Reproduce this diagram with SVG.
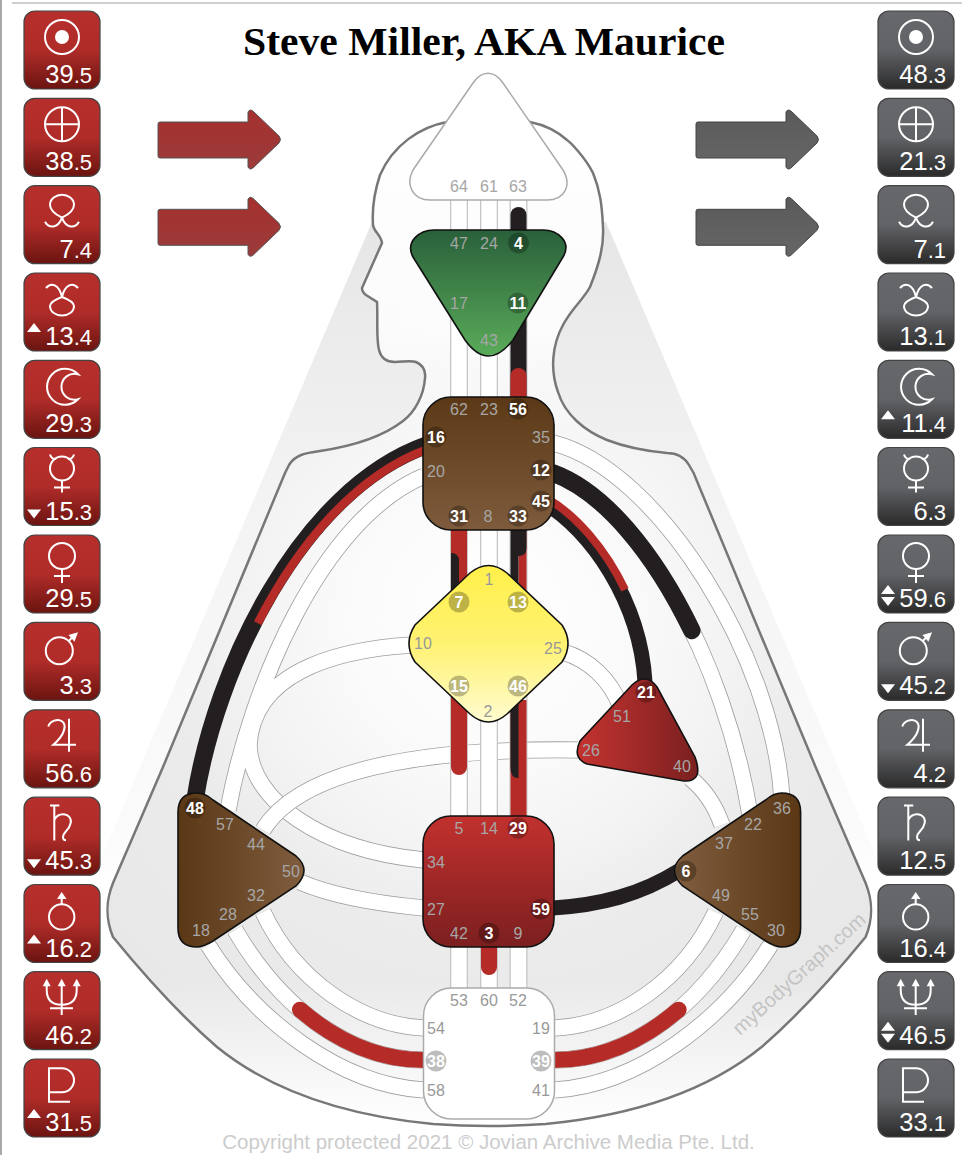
<svg xmlns="http://www.w3.org/2000/svg" width="974" height="1166" viewBox="0 0 974 1166">
<style>
text{font-family:"Liberation Sans",Arial,sans-serif}
.tr{fill:url(#tileR);stroke:#444;stroke-width:1.2}
.tg{fill:url(#tileG);stroke:#444;stroke-width:1.2}
.v{fill:#fff;font-size:25.500px;text-anchor:end}
.d{font-size:22px}
.s{fill:none;stroke:#fff;stroke-width:2}
.f{fill:#fff;stroke:none}
.ch{fill:none}
.b{stroke:#9e9e9e;stroke-width:17;fill:none}
.w{stroke:#fff;stroke-width:15.400;fill:none}
.vb{stroke:#c6c6c6;stroke-width:18;fill:none}
.k{stroke:#231f20;stroke-width:17.500;fill:none}
.r{stroke:#b52b27;stroke-width:16;fill:none}
.n{stroke:#111;stroke-width:1.6}
.g{fill:#a6a6a6;font-size:16px;text-anchor:middle}
.gy{fill:#999;font-size:16px;text-anchor:middle}
.a{fill:#fff;font-size:16px;font-weight:bold;text-anchor:middle}
.c{fill:#000;fill-opacity:.26}
.cl{fill:#bdbdbd}
.arR{fill:url(#arrR);stroke:#555;stroke-width:1}
.arG{fill:url(#arrG);stroke:#444;stroke-width:1}
</style>
<defs>
<linearGradient id="tileR" x1="0" y1="0" x2="0" y2="1"><stop offset="0" stop-color="#b62f2c"/><stop offset=".5" stop-color="#b02c29"/><stop offset="1" stop-color="#6b1410"/></linearGradient>
<linearGradient id="tileG" x1="0" y1="0" x2="0" y2="1"><stop offset="0" stop-color="#67686c"/><stop offset=".5" stop-color="#626367"/><stop offset="1" stop-color="#2a2a2a"/></linearGradient>
<linearGradient id="arrR" x1="0" y1="0" x2="0" y2="1"><stop offset="0" stop-color="#a5302e"/><stop offset="1" stop-color="#9b3b3b"/></linearGradient>
<linearGradient id="arrG" x1="0" y1="0" x2="0" y2="1"><stop offset="0" stop-color="#5a5a5c"/><stop offset="1" stop-color="#666"/></linearGradient>
<linearGradient id="cone" gradientUnits="userSpaceOnUse" x1="0" y1="225" x2="0" y2="900"><stop offset="0" stop-color="#e6e6e6"/><stop offset=".4" stop-color="#f3f3f3"/><stop offset=".9" stop-color="#fbfbfb"/><stop offset="1" stop-color="#fff"/></linearGradient>
<radialGradient id="body" gradientUnits="userSpaceOnUse" cx="489" cy="620" r="480"><stop offset="0" stop-color="#fff"/><stop offset=".3" stop-color="#fafafa"/><stop offset=".5" stop-color="#f3f3f3"/><stop offset=".68" stop-color="#ebebeb"/><stop offset="1" stop-color="#e8e8e8"/></radialGradient>
<linearGradient id="over" gradientUnits="userSpaceOnUse" x1="0" y1="120" x2="0" y2="1126"><stop offset="0" stop-color="#fff"/><stop offset=".209" stop-color="#fff" stop-opacity=".8"/><stop offset=".328" stop-color="#fff" stop-opacity="0"/><stop offset=".855" stop-color="#fff" stop-opacity="0"/><stop offset="1" stop-color="#fff"/></linearGradient>
<linearGradient id="ajna" x1="0" y1="0" x2="0" y2="1"><stop offset="0" stop-color="#29603a"/><stop offset="1" stop-color="#5aab5a"/></linearGradient>
<linearGradient id="throat" x1="0" y1="0" x2="0" y2="1"><stop offset="0" stop-color="#5c3916"/><stop offset="1" stop-color="#7d5b3c"/></linearGradient>
<linearGradient id="gc" x1="0" y1="0" x2="0" y2="1"><stop offset="0" stop-color="#fff04a"/><stop offset=".5" stop-color="#fff272"/><stop offset="1" stop-color="#fffcd0"/></linearGradient>
<linearGradient id="ego" x1="0" y1="0" x2="1" y2="0"><stop offset="0" stop-color="#c43330"/><stop offset="1" stop-color="#7a2020"/></linearGradient>
<linearGradient id="sacral" x1="0" y1="0" x2="0" y2="1"><stop offset="0" stop-color="#c2312e"/><stop offset="1" stop-color="#7b1f1f"/></linearGradient>
<linearGradient id="spl" x1="0" y1="0" x2="1" y2="0"><stop offset="0" stop-color="#5a3715"/><stop offset="1" stop-color="#7f5d3e"/></linearGradient>

<path id="arrow" d="M160,122H248V112Q250,108 254,112L279,136Q282,139.5 279,143L254,167Q250,171 248,167V158H160Q158,158 158,156V124Q158,122 160,122Z"/>
<path id="bodyP" d="M447,122C420,127 393,145 380,175C375,190 372,210 373,225C374,232 381,235 382,243L362,288Q362,292 366,295L377,302C378,320 376,338 379,350C381,358 386,362 395,362C403,362 410,360 416,362C423,365 426,370 425,378C424,395 415,412 403,421C385,435 360,445 320,451C305,453 295,455 289,465L285,473L163,767L113,883C107,898 104,915 113,937C140,970 180,1015 217,1047C270,1090 340,1115 433,1124C460,1126 480,1126 489.3,1126C498,1126 518,1126 545.6,1124C638.6,1115 708.6,1090 761.6,1047C798.6,1015 838.6,970 865.6,937C874.6,915 871.6,898 865.6,883L815.6,767L693.6,473L689,465C683,455 675,453 667,453C645,451 625,447 607,440C585,431 565,415 558,392C550,370 552,345 563,325C572,308 583,300 590,287C600,262 604,245 603,227C602,205 600,190 593,173C585,157 570,142 567,140C558,132 545,125 530,122Z"/>

<g id="sun"><circle class="s" cx="38" cy="26" r="17"/><circle class="f" cx="38" cy="26" r="7"/></g>
<g id="earth"><circle class="s" cx="38" cy="26" r="17"/><path class="s" d="M38,9V43M21,26H55"/></g>
<path id="nnode" class="s" d="M21,36C25,43 34,43 38,32C30,28 26,24 26,19C26,13 32,9 38,9C44,9 50,13 50,19C50,24 46,28 38,32C42,43 51,43 55,36"/>
<path id="snode" class="s" d="M22,15C27,9 35,11 38,24C30,27 26,30 26,33C26,39 32,42.500 38,42.500C44,42.500 50,39 50,33C50,30 46,27 38,24C41,11 49,9 54,15"/>
<path id="moon" class="s" d="M54,14A18,18 0 1 0 54,39A13,13 0 1 1 54,14Z"/>
<g id="mercury"><circle class="s" cx="38" cy="21" r="12"/><path class="s" d="M26,7C27,11 30,12 32,11M50,7C49,11 46,12 44,11M38,33V45M30,40H46"/></g>
<g id="venus"><circle class="s" cx="38" cy="21" r="13"/><path class="s" d="M38,34V48M30,41H46"/></g>
<g id="mars"><circle class="s" cx="35.3" cy="28.4" r="13.5"/><path class="s" d="M45,18.5L50,13"/><path class="f" d="M44.5,12.7L54,10L50.5,19.4Z"/></g>
<path id="jupiter" class="s" d="M24.3,16.7C26,11 34,8.5 38,11.5C43,15 41,25 29.3,35H52M45,9V42"/>
<g id="saturn"><path class="s" d="M30.3,7.7V43.4M26,8.4H35.3M30.3,22.7C33,17 39,16 43,18C50,22 46,30 42,34C38,38 38,43 42,43"/></g>
<g id="uranus"><circle class="s" cx="37.7" cy="32.4" r="12.7"/><path class="s" d="M37.7,14V20"/><path class="f" d="M33,14.5H42.5L37.7,7.4Z"/></g>
<g id="neptune"><path class="s" d="M22.7,13V18Q22.7,33 37.7,33Q52.7,33 52.7,18V13M37.7,13V43.3M26,36.6H49"/><path class="f" d="M18.7,14.5H26.7L22.7,7ZM33.7,14.5H41.7L37.7,7ZM48.7,14.5H56.7L52.7,7Z"/></g>
<path id="pluto" class="s" d="M25,33.3H38A12,12 0 0 0 38,9.3H25V42.7H46"/>
<path id="up" class="f" d="M3,59H17L10,50Z"/>
<path id="down" class="f" d="M3,62H17L10,71Z"/>

<path id="c2057" d="M424,476C320,520 250,690 228,810"/>
<path id="c1034" d="M412,645C330,650 253,675 249,745C250,800 320,850 424,860"/>
<path id="c4426" d="M263,830C300,770 420,748 578,750"/>
<path id="c5027" d="M300,882C335,897 380,904 424,908"/>
<path id="c4037" d="M690,778C705,790 715,805 722,825"/>
<path id="c2551" d="M563,652C590,660 610,680 620,705"/>
<path id="c3536" d="M553,443C660,470 775,660 782,800"/>
<path id="c1222" d="M553,473C640,505 725,660 750,815"/>
<path id="c5832" d="M424,1028C360,1025 295,980 263,912"/>
<path id="c3828" d="M424,1060C355,1060 285,1015 235,930"/>
<path id="c5818" d="M424,1090C340,1085 255,1020 208,945"/>
<g id="rootCh" class="ch"><use href="#c5832" class="b"/><use href="#c3828" class="b"/><use href="#c5818" class="b"/><use href="#c5832" class="w"/><use href="#c3828" class="w"/><use href="#c5818" class="w"/></g>
<path id="spleenP" d="M178,812Q178,793 197,793Q205,793 213,800L296,856Q312,870 296,886L213,941Q203,947 197,947Q178,947 178,928Z"/>
</defs>

<rect width="974" height="1166" fill="#fff"/>
<rect x="0" y="0" width="2" height="1155" fill="#a8a8a8"/>
<rect x="12" y="2" width="950" height="2" fill="#cfcfcf"/>

<text id="title" x="484" y="55" text-anchor="middle" textLength="482" lengthAdjust="spacingAndGlyphs" style="font-family:'Liberation Serif','Times New Roman',serif;font-size:39px;font-weight:bold;fill:#000">Steve Miller, AKA Maurice</text>

<g id="backdrop">
<path fill="url(#cone)" d="M372,222L606,222L886,880H92Z"/>
<use href="#bodyP" fill="url(#body)"/>
<use href="#bodyP" fill="url(#over)"/>
<use href="#bodyP" fill="none" stroke="#777" stroke-width="2.500"/>
</g>

<g id="arrows">
<use href="#arrow" class="arR"/>
<use href="#arrow" class="arR" transform="translate(0,87.3)"/>
<use href="#arrow" class="arG" transform="translate(538,0)"/>
<use href="#arrow" class="arG" transform="translate(538,87.3)"/>
</g>

<g id="connectors">
<g class="ch"><use href="#c2057" class="b"/><use href="#c1034" class="b"/><use href="#c2057" class="w"/><use href="#c1034" class="w"/></g>
<use href="#c4426" class="b"/><use href="#c4426" class="w"/>
<use href="#c5027" class="b"/><use href="#c5027" class="w"/>
<use href="#c4037" class="b"/><use href="#c4037" class="w"/>
<use href="#c2551" class="b"/><use href="#c2551" class="w"/>
<use href="#c3536" class="b"/><use href="#c3536" class="w"/>
<use href="#c1222" class="b"/><use href="#c1222" class="w"/>
<use href="#rootCh"/>
<use href="#rootCh" transform="matrix(-1 0 0 1 978.6 0)"/>
<path class="vb" d="M459,195V1000M489,195V1000M518.500,195V1000"/>
<path class="w" d="M459,195V1000M489,195V1000M518.500,195V1000"/>
<path class="k" style="stroke-width:16" stroke-linecap="round" d="M518.500,215V400"/>
<path class="r" stroke-linecap="round" d="M518.500,376V410"/>
<path class="k" d="M427,445C300,490 215,670 195,800"/>
<path class="r" style="stroke-width:8.500" pathLength="100" stroke-dasharray="57 100" d="M428,449C303,494 219,672 199,801"/>
<path class="k" pathLength="100" stroke-dasharray="52.500 100" stroke-linecap="round" d="M553,473C640,505 725,660 750,815"/>
<path class="k" style="stroke-width:15" d="M545,503C590,530 640,600 645,682"/>
<path class="r" style="stroke-width:8" pathLength="100" stroke-dasharray="56 100" d="M548,499C594,526 644,598 649,681"/>
<path class="k" style="stroke-width:15" d="M553,908C600,905 640,895 680,870"/>
<path class="r" pathLength="100" stroke-dasharray="57 100" stroke-linecap="round" d="M424,1060C355,1060 285,1015 235,930"/>
<path class="r" pathLength="100" stroke-dasharray="57 100" stroke-linecap="round" d="M554.6,1060C623.6,1060 693.6,1015 743.6,930"/>
<path class="r" stroke-linecap="round" d="M489,940V967"/>
<path class="r" stroke-linecap="round" d="M459,525V767"/>
<path fill="#231f20" d="M451,600V553Q459,553 459,561V600Z"/>
<rect x="518.500" y="530" width="8" height="70" fill="#b52b27"/>
<path fill="#231f20" d="M510.500,525H526.500V548Q526.500,556 518.500,556V600H510.500Z"/>
<rect x="510.500" y="700" width="16" height="118" fill="#b52b27"/>
<path fill="#231f20" d="M510.500,700H518.500V778Q510.500,778 510.500,768Z"/>
</g>

<g id="head">
<path fill="#fff" stroke="#aaa" stroke-width="1.500" d="M473,83C482,70 494,70 503,83L563,170C572,185 565,200 547,200H430C413,200 405,185 413,170Z"/>
<text class="g" x="459" y="192">64</text><text class="g" x="489" y="192">61</text><text class="g" x="518" y="192">63</text>
</g>
<g id="ajna">
<path class="n" fill="url(#ajna)" d="M434,230H543C558,230 572,242 563,257L513,340Q488,372 465,340L413,257C405,242 419,230 434,230Z"/>
<text class="g" x="459" y="248.500">47</text><text class="g" x="489" y="248.500">24</text>
<circle class="c" cx="518.500" cy="243" r="10.500"/><text class="a" x="518.500" y="248.500">4</text>
<text class="g" x="459" y="309">17</text>
<circle class="c" cx="518" cy="303" r="10.500"/><text class="a" x="518" y="309">11</text>
<text class="g" x="489" y="346">43</text>
</g>
<g id="throat">
<rect class="n" fill="url(#throat)" x="423" y="397" width="131" height="133" rx="28"/>
<text class="g" x="459" y="415">62</text><text class="g" x="489" y="415">23</text>
<circle class="c" cx="518" cy="409" r="10.500"/><text class="a" x="518" y="415">56</text>
<circle class="c" cx="436" cy="437" r="10.500"/><text class="a" x="436" y="443">16</text>
<text class="g" x="541" y="443">35</text><text class="g" x="436" y="477">20</text>
<circle class="c" cx="541" cy="470" r="10.500"/><text class="a" x="541" y="476">12</text>
<circle class="c" cx="541" cy="501" r="10.500"/><text class="a" x="541" y="507">45</text>
<circle class="c" cx="459" cy="516" r="10.500"/><text class="a" x="459" y="522">31</text>
<text class="g" x="488" y="522">8</text>
<circle class="c" cx="518" cy="516" r="10.500"/><text class="a" x="518" y="522">33</text>
</g>
<g id="g-center">
<path class="n" fill="url(#gc)" d="M470,573Q488.500,558 507,573L562,625Q574,643.500 562,662L507,714Q488.500,730 470,714L415,662Q403,643.500 415,625Z"/>
<text class="gy" x="489" y="585">1</text>
<circle class="c" cx="459" cy="602" r="10.500"/><text class="a" x="459" y="608">7</text>
<circle class="c" cx="518" cy="602" r="10.500"/><text class="a" x="518" y="608">13</text>
<text class="gy" x="423" y="649">10</text><text class="gy" x="553" y="654">25</text>
<circle class="c" cx="459" cy="686" r="10.500"/><text class="a" x="459" y="692">15</text>
<circle class="c" cx="518" cy="686" r="10.500"/><text class="a" x="518" y="692">46</text>
<text class="gy" x="488" y="717">2</text>
</g>
<g id="ego">
<path class="n" fill="url(#ego)" d="M632,685Q646,672 657,687L695,757Q704,782 684,781L587,764Q572,758 580,741Z"/>
<circle class="c" cx="646" cy="692" r="10.500"/><text class="a" x="646" y="698">21</text>
<text class="g" x="622" y="722">51</text><text class="g" x="591" y="756">26</text><text class="g" x="682" y="772">40</text>
</g>
<g id="spleen">
<use href="#spleenP" class="n" fill="url(#spl)"/>
<circle class="c" cx="195" cy="808" r="10.500"/><text class="a" x="195" y="814">48</text>
<text class="g" x="225" y="830">57</text><text class="g" x="256" y="850">44</text><text class="g" x="291" y="877">50</text><text class="g" x="256" y="901">32</text><text class="g" x="228" y="920">28</text><text class="g" x="201" y="936">18</text>
</g>
<g id="solar-plexus">
<use href="#spleenP" class="n" fill="url(#spl)" transform="matrix(-1 0 0 1 978.6 0)"/>
<text class="g" x="782" y="814">36</text><text class="g" x="753" y="830">22</text><text class="g" x="724" y="849">37</text>
<circle class="c" cx="686" cy="871" r="10.500"/><text class="a" x="686" y="877">6</text>
<text class="g" x="721" y="901">49</text><text class="g" x="750" y="920">55</text><text class="g" x="776" y="936">30</text>
</g>
<g id="sacral">
<rect class="n" fill="url(#sacral)" x="423" y="816" width="131" height="131" rx="28"/>
<text class="g" x="459" y="834">5</text><text class="g" x="489" y="834">14</text>
<circle class="c" cx="518" cy="828" r="10.500"/><text class="a" x="518" y="834">29</text>
<text class="g" x="436" y="868">34</text><text class="g" x="436" y="915">27</text><text class="g" x="459" y="939">42</text>
<circle class="c" cx="489" cy="933" r="10.500"/><text class="a" x="489" y="939">3</text>
<circle class="c" cx="541" cy="909" r="10.500"/><text class="a" x="541" y="915">59</text>
<text class="g" x="518" y="939">9</text>
</g>
<g id="root">
<rect fill="#fff" stroke="#aaa" stroke-width="1.500" x="423.500" y="988" width="131" height="131" rx="28"/>
<text class="gy" x="459" y="1006">53</text><text class="gy" x="489" y="1006">60</text><text class="gy" x="518" y="1006">52</text>
<text class="gy" x="436" y="1034">54</text><text class="gy" x="541" y="1034">19</text>
<circle class="cl" cx="436" cy="1061" r="10.500"/><text class="a" x="436" y="1067">38</text>
<circle class="cl" cx="541" cy="1061" r="10.500"/><text class="a" x="541" y="1067">39</text>
<text class="gy" x="436" y="1096">58</text><text class="gy" x="541" y="1096">41</text>
</g>

<g id="planets-left">
<g id="L-sun" transform="translate(24,11)"><rect class="tr" width="76" height="78" rx="11"/><use href="#sun"/><text class="v" x="68" y="72">39<tspan class="d">.5</tspan></text></g>
<g id="L-earth" transform="translate(24,98.300)"><rect class="tr" width="76" height="78" rx="11"/><use href="#earth"/><text class="v" x="68" y="72">38<tspan class="d">.5</tspan></text></g>
<g id="L-nnode" transform="translate(24,185.700)"><rect class="tr" width="76" height="78" rx="11"/><use href="#nnode"/><text class="v" x="68" y="72">7<tspan class="d">.4</tspan></text></g>
<g id="L-snode" transform="translate(24,273)"><rect class="tr" width="76" height="78" rx="11"/><use href="#snode"/><use href="#up"/><text class="v" x="68" y="72">13<tspan class="d">.4</tspan></text></g>
<g id="L-moon" transform="translate(24,360.300)"><rect class="tr" width="76" height="78" rx="11"/><use href="#moon"/><text class="v" x="68" y="72">29<tspan class="d">.3</tspan></text></g>
<g id="L-mercury" transform="translate(24,447.500)"><rect class="tr" width="76" height="78" rx="11"/><use href="#mercury"/><use href="#down"/><text class="v" x="68" y="72">15<tspan class="d">.3</tspan></text></g>
<g id="L-venus" transform="translate(24,535)"><rect class="tr" width="76" height="78" rx="11"/><use href="#venus"/><text class="v" x="68" y="72">29<tspan class="d">.5</tspan></text></g>
<g id="L-mars" transform="translate(24,622.300)"><rect class="tr" width="76" height="78" rx="11"/><use href="#mars"/><text class="v" x="68" y="72">3<tspan class="d">.3</tspan></text></g>
<g id="L-jupiter" transform="translate(24,709.800)"><rect class="tr" width="76" height="78" rx="11"/><use href="#jupiter"/><text class="v" x="68" y="72">56<tspan class="d">.6</tspan></text></g>
<g id="L-saturn" transform="translate(24,797.200)"><rect class="tr" width="76" height="78" rx="11"/><use href="#saturn"/><use href="#down"/><text class="v" x="68" y="72">45<tspan class="d">.3</tspan></text></g>
<g id="L-uranus" transform="translate(24,884.500)"><rect class="tr" width="76" height="78" rx="11"/><use href="#uranus"/><use href="#up"/><text class="v" x="68" y="72">16<tspan class="d">.2</tspan></text></g>
<g id="L-neptune" transform="translate(24,971.700)"><rect class="tr" width="76" height="78" rx="11"/><use href="#neptune"/><text class="v" x="68" y="72">46<tspan class="d">.2</tspan></text></g>
<g id="L-pluto" transform="translate(24,1059)"><rect class="tr" width="76" height="78" rx="11"/><use href="#pluto"/><use href="#up"/><text class="v" x="68" y="72">31<tspan class="d">.5</tspan></text></g>
</g>
<g id="planets-right">
<g id="R-sun" transform="translate(878,11)"><rect class="tg" width="76" height="78" rx="11"/><use href="#sun"/><text class="v" x="68" y="72">48<tspan class="d">.3</tspan></text></g>
<g id="R-earth" transform="translate(878,98.300)"><rect class="tg" width="76" height="78" rx="11"/><use href="#earth"/><text class="v" x="68" y="72">21<tspan class="d">.3</tspan></text></g>
<g id="R-nnode" transform="translate(878,185.700)"><rect class="tg" width="76" height="78" rx="11"/><use href="#nnode"/><text class="v" x="68" y="72">7<tspan class="d">.1</tspan></text></g>
<g id="R-snode" transform="translate(878,273)"><rect class="tg" width="76" height="78" rx="11"/><use href="#snode"/><text class="v" x="68" y="72">13<tspan class="d">.1</tspan></text></g>
<g id="R-moon" transform="translate(878,360.300)"><rect class="tg" width="76" height="78" rx="11"/><use href="#moon"/><use href="#up"/><text class="v" x="68" y="72">11<tspan class="d">.4</tspan></text></g>
<g id="R-mercury" transform="translate(878,447.500)"><rect class="tg" width="76" height="78" rx="11"/><use href="#mercury"/><text class="v" x="68" y="72">6<tspan class="d">.3</tspan></text></g>
<g id="R-venus" transform="translate(878,535)"><rect class="tg" width="76" height="78" rx="11"/><use href="#venus"/><use href="#up"/><use href="#down"/><text class="v" x="68" y="72">59<tspan class="d">.6</tspan></text></g>
<g id="R-mars" transform="translate(878,622.300)"><rect class="tg" width="76" height="78" rx="11"/><use href="#mars"/><use href="#down"/><text class="v" x="68" y="72">45<tspan class="d">.2</tspan></text></g>
<g id="R-jupiter" transform="translate(878,709.800)"><rect class="tg" width="76" height="78" rx="11"/><use href="#jupiter"/><text class="v" x="68" y="72">4<tspan class="d">.2</tspan></text></g>
<g id="R-saturn" transform="translate(878,797.200)"><rect class="tg" width="76" height="78" rx="11"/><use href="#saturn"/><text class="v" x="68" y="72">12<tspan class="d">.5</tspan></text></g>
<g id="R-uranus" transform="translate(878,884.500)"><rect class="tg" width="76" height="78" rx="11"/><use href="#uranus"/><text class="v" x="68" y="72">16<tspan class="d">.4</tspan></text></g>
<g id="R-neptune" transform="translate(878,971.700)"><rect class="tg" width="76" height="78" rx="11"/><use href="#neptune"/><use href="#up"/><use href="#down"/><text class="v" x="68" y="72">46<tspan class="d">.5</tspan></text></g>
<g id="R-pluto" transform="translate(878,1059)"><rect class="tg" width="76" height="78" rx="11"/><use href="#pluto"/><text class="v" x="68" y="72">33<tspan class="d">.1</tspan></text></g>
</g>

<text id="watermark" transform="translate(740,1036) rotate(-42)" style="font-size:20px;fill:#c4c4c4">myBodyGraph.com</text>
<text id="copyright" x="488.500" y="1149" text-anchor="middle" style="font-size:20.500px;fill:#cccccc">Copyright protected 2021 © Jovian Archive Media Pte. Ltd.</text>
</svg>
